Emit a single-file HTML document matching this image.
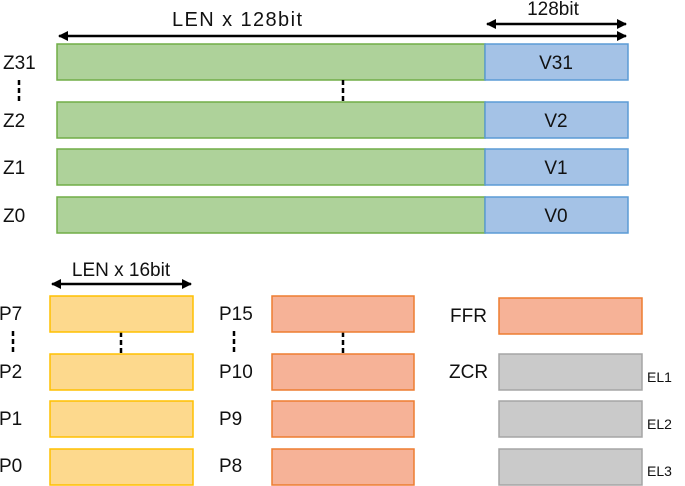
<!DOCTYPE html>
<html><head><meta charset="utf-8"><style>
html,body{margin:0;padding:0;background:#fff;}
svg{display:block;}
text{font-family:"Liberation Sans","DejaVu Sans",sans-serif;fill:#111;}
</style></head><body>
<svg width="685" height="486" viewBox="0 0 685 486" xmlns="http://www.w3.org/2000/svg">
<defs>
<marker id="a" viewBox="0 0 10 10" refX="9" refY="5" markerWidth="4" markerHeight="4" orient="auto-start-reverse"><path d="M0,0 L10,5 L0,10 z" fill="#000"/></marker>
</defs>
<!-- top arrows -->
<line x1="59" y1="36" x2="626" y2="36" stroke="#000" stroke-width="2.5" marker-start="url(#a)" marker-end="url(#a)"/>
<line x1="487" y1="24" x2="626" y2="24" stroke="#000" stroke-width="2.5" marker-start="url(#a)" marker-end="url(#a)"/>
<text x="237" y="26" font-size="20" text-anchor="middle" textLength="130">LEN x 128bit</text>
<text x="553" y="15" font-size="19" text-anchor="middle">128bit</text>
<!-- Z rows -->
<g stroke-width="1.5">
<rect x="57" y="44" width="428" height="36" fill="#aed29a" stroke="#70ad47"/>
<rect x="485" y="44" width="143" height="36" fill="#a4c2e6" stroke="#5b9bd5"/>
<rect x="57" y="102" width="428" height="36" fill="#aed29a" stroke="#70ad47"/>
<rect x="485" y="102" width="143" height="36" fill="#a4c2e6" stroke="#5b9bd5"/>
<rect x="57" y="149" width="428" height="36" fill="#aed29a" stroke="#70ad47"/>
<rect x="485" y="149" width="143" height="36" fill="#a4c2e6" stroke="#5b9bd5"/>
<rect x="57" y="197" width="428" height="36" fill="#aed29a" stroke="#70ad47"/>
<rect x="485" y="197" width="143" height="36" fill="#a4c2e6" stroke="#5b9bd5"/>
</g>
<g font-size="19" text-anchor="middle">
<text x="556" y="69">V31</text><text x="556" y="127">V2</text>
<text x="556" y="174">V1</text><text x="556" y="222">V0</text>
</g>
<g font-size="19">
<text x="3" y="69">Z31</text><text x="3" y="127">Z2</text>
<text x="3" y="174">Z1</text><text x="3" y="222">Z0</text>
</g>
<g stroke="#000" stroke-width="2.5" stroke-dasharray="5,3">
<line x1="19" y1="80" x2="19" y2="101"/>
<line x1="343" y1="80" x2="343" y2="101"/>
<line x1="13" y1="331" x2="13" y2="353"/>
<line x1="121" y1="332" x2="121" y2="354"/>
<line x1="234" y1="331" x2="234" y2="353"/>
<line x1="343" y1="332" x2="343" y2="354"/>
</g>
<!-- bottom arrow -->
<line x1="52" y1="284" x2="191" y2="284" stroke="#000" stroke-width="2.5" marker-start="url(#a)" marker-end="url(#a)"/>
<text x="121" y="276" font-size="19" text-anchor="middle">LEN x 16bit</text>
<!-- P yellow -->
<g stroke-width="1.5">
<rect x="50" y="296" width="143" height="36" fill="#fdd98d" stroke="#ffc000"/>
<rect x="50" y="354" width="143" height="36" fill="#fdd98d" stroke="#ffc000"/>
<rect x="50" y="401" width="143" height="36" fill="#fdd98d" stroke="#ffc000"/>
<rect x="50" y="449" width="143" height="36" fill="#fdd98d" stroke="#ffc000"/>
<rect x="272" y="296" width="142" height="36" fill="#f6b297" stroke="#ed7d31"/>
<rect x="272" y="354" width="142" height="36" fill="#f6b297" stroke="#ed7d31"/>
<rect x="272" y="401" width="142" height="36" fill="#f6b297" stroke="#ed7d31"/>
<rect x="272" y="449" width="142" height="36" fill="#f6b297" stroke="#ed7d31"/>
<rect x="499" y="298" width="143" height="36" fill="#f6b297" stroke="#ed7d31"/>
<rect x="499" y="354" width="143" height="36" fill="#cacaca" stroke="#a5a5a5"/>
<rect x="499" y="401" width="143" height="36" fill="#cacaca" stroke="#a5a5a5"/>
<rect x="499" y="449" width="143" height="36" fill="#cacaca" stroke="#a5a5a5"/>
</g>
<g font-size="19">
<text x="-1" y="320">P7</text><text x="-1" y="378">P2</text>
<text x="-1" y="425">P1</text><text x="-1" y="472">P0</text>
<text x="219" y="320">P15</text><text x="219" y="378">P10</text>
<text x="219" y="425">P9</text><text x="219" y="472">P8</text>
<text x="450" y="322">FFR</text><text x="449" y="378">ZCR</text>
</g>
<g font-size="14" style="fill:#333">
<text x="647" y="382">EL1</text><text x="647" y="429">EL2</text><text x="647" y="476">EL3</text>
</g>
</svg>
</body></html>
